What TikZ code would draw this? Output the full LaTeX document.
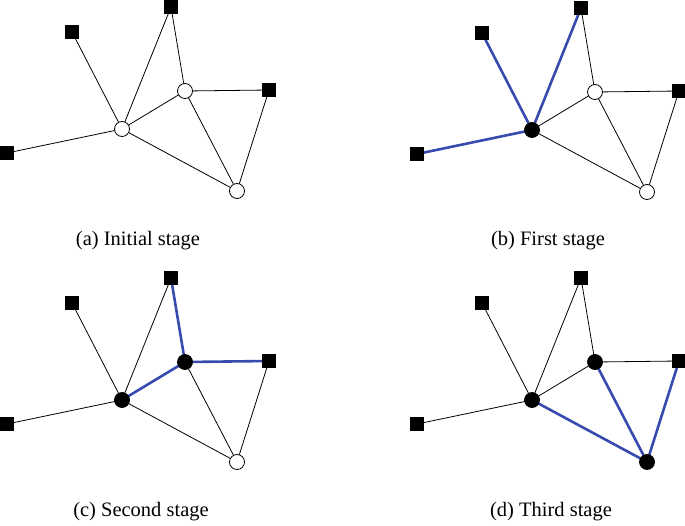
\documentclass[tikz,border=0pt]{standalone}
\usepackage{fontspec}
\setmainfont{Liberation Serif}
\begin{document}
\begin{tikzpicture}[x=1pt,y=-1pt,
 sq/.style={draw=black,fill=black,minimum size=13pt,inner sep=0pt},
 cir/.style={circle,draw=black,fill=white,line width=0.8pt,minimum size=15pt,inner sep=0pt},
 full/.style={fill=black},
 norm/.style={draw=black,line width=0.8pt},
 blue/.style={draw={rgb,255:red,55;green,75;blue,175},line width=2.6pt},
 lab/.style={font=\fontsize{20.5}{24}\selectfont}]
\useasboundingbox (0,0) rectangle (685,525);
\newcommand\mypanel[5]{%
 \begin{scope}[shift={(#1,#2)}]
 \path[e1] (122,129) -- (72,32);
 \path[e2] (122,129) -- (171,7);
 \path[e3] (122,129) -- (7,153);
 \path[e4] (122,129) -- (185,91);
 \path[e5] (122,129) -- (237,191);
 \path[e6] (185,91) -- (171,7);
 \path[e7] (185,91) -- (269,90);
 \path[e8] (185,91) -- (237,191);
 \path[e9] (269,90) -- (237,191);
 \node[sq] (#3s1) at (72,32) {};
 \node[sq] (#3s2) at (171,7) {};
 \node[sq] (#3s3) at (269,90) {};
 \node[sq] (#3s4) at (7,153) {};
 \node[cir,#4] (#3c1) at (122,129) {};
 \node[cir,#5] (#3c2) at (185,91) {};
 \node[cir,e10] (#3c3) at (237,191) {};
 \end{scope}}
\tikzset{e1/.style=norm,e2/.style=norm,e3/.style=norm,e4/.style=norm,e5/.style=norm,e6/.style=norm,e7/.style=norm,e8/.style=norm,e9/.style=norm,e10/.style={}}
\mypanel{0}{0}{a}{}{}
\begin{scope}
\tikzset{e1/.style=blue,e2/.style=blue,e3/.style=blue}
\mypanel{410}{1}{b}{full}{}
\end{scope}
\begin{scope}
\tikzset{e4/.style=blue,e6/.style=blue,e7/.style=blue}
\mypanel{0}{271}{c}{full}{full}
\end{scope}
\begin{scope}
\tikzset{e5/.style=blue,e8/.style=blue,e9/.style=blue,e10/.style=full}
\mypanel{410}{271}{d}{full}{full}
\end{scope}
\node[lab] (la) at (138,241) {(a) Initial stage};
\node[lab] (lb) at (548,241) {(b) First stage};
\node[lab] (lc) at (141,512) {(c) Second stage};
\node[lab] (ld) at (551,512) {(d) Third stage};
\end{tikzpicture}
\end{document}
